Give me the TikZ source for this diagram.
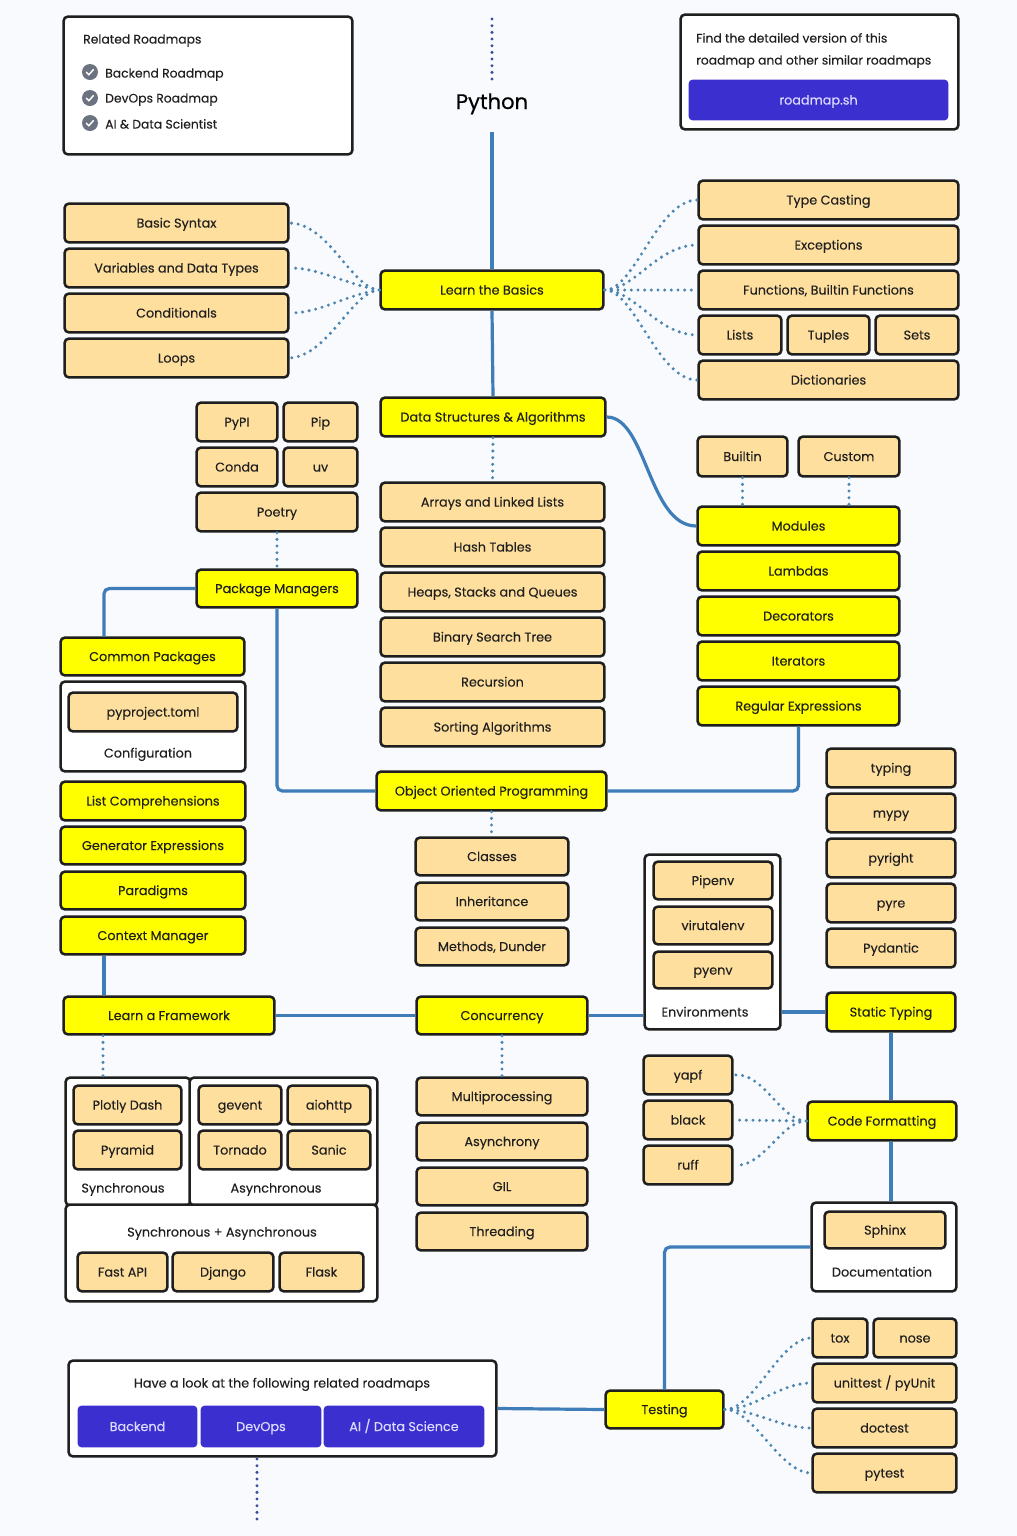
\documentclass[tikz,border=0pt]{standalone}
\usepackage{fontspec}
\setmainfont{Poppins}
\usetikzlibrary{backgrounds}
\definecolor{pagebg}{HTML}{F8FAFD}
\definecolor{tanfill}{HTML}{FFDF9E}
\definecolor{yelfill}{HTML}{FFFF00}
\definecolor{ink}{HTML}{1F1F1F}
\definecolor{linkblue}{HTML}{3E7DB8}
\definecolor{dotblue}{HTML}{4C86B0}
\definecolor{navydot}{HTML}{3A4F9E}
\definecolor{btnfill}{HTML}{3C2FCF}
\definecolor{btntext}{HTML}{DCDCFF}
\definecolor{chkgray}{HTML}{6B7280}
\newcommand{\rmfont}{\fontsize{9.6}{11}\selectfont\addfontfeature{FakeBold=0.15}}
\newcommand{\rmsmall}{\fontsize{9.25}{11}\selectfont\addfontfeature{FakeBold=0.15}}
\tikzset{
  x=0.75pt,y=-0.75pt,
  basebox/.style={rectangle,rounded corners=3.2pt,draw=ink,line width=1.9pt,inner sep=0pt,text=ink,
    font=\rmfont,text height=7.9pt,text depth=1.1pt,align=center},
  tanbox/.style={basebox,fill=tanfill},
  yelbox/.style={basebox,fill=yelfill},
  whitebox/.style={basebox,fill=white},
  btnbox/.style={rectangle,rounded corners=3pt,fill=btnfill,text=btntext,inner sep=0pt,
    font=\rmfont,text height=7.9pt,text depth=1.1pt},
  lbl/.style={inner sep=0pt,text=ink,font=\rmfont,text height=7.9pt,text depth=1.1pt},
  lblsmall/.style={lbl,font=\rmsmall},
  bline/.style={draw=linkblue,line width=2.4pt,rounded corners=4pt},
  fan/.style={draw=dotblue,line width=2.5pt,line cap=round,dash pattern=on 0pt off 5pt},
  topdots/.style={draw=navydot,line width=2.5pt,line cap=round,dash pattern=on 0pt off 5pt},
  chkdot/.style={circle,fill=chkgray,inner sep=0pt,minimum size=12pt},
}
\newcommand{\rmbx}[7][tanbox]{%
  \pgfmathsetmacro\rmcx{(#3+#5)/2}%
  \pgfmathsetmacro\rmcy{(#4+#6)/2}%
  \pgfmathsetmacro\rmw{(#5-#3-1.2)*0.75}%
  \pgfmathsetmacro\rmh{(#6-#4-1.2)*0.75}%
  \node[#1,minimum width=\rmw pt,minimum height=\rmh pt] (#2) at (\rmcx,\rmcy) {#7};}
\newcommand{\rmchk}[3]{%
  \node[chkdot] (#1) at (#2,#3) {};
  \draw[white,line width=1.1pt,line cap=round,line join=round]
    ([shift={(-3.6,0.2)}]#1.center) -- ++(2.4,2.6) -- ++(4.6,-5.2);}
\begin{document}
\begin{tikzpicture}
\path[use as bounding box,fill=pagebg] (0,0) rectangle (1017,1536);

% top panels
\rmbx[whitebox]{related}{63}{16}{353}{155}{}
\node[lblsmall,anchor=west] (relT) at (83,39) {Related Roadmaps};
\rmchk{c1}{90}{72}\rmchk{c2}{90}{98}\rmchk{c3}{90}{123}
\node[lblsmall,anchor=west] (rel1) at (105,73) {Backend Roadmap};
\node[lblsmall,anchor=west] (rel2) at (105,98) {DevOps Roadmap};
\node[lblsmall,anchor=west] (rel3) at (105,124) {AI \& Data Scientist};

\rmbx[whitebox]{find}{680}{14}{959}{130}{}
\node[lblsmall,anchor=west] (find1) at (696,38) {Find the detailed version of this};
\node[lblsmall,anchor=west] (find2) at (696,60) {roadmap and other similar roadmaps};
\rmbx[btnbox]{sh}{688}{79}{949}{121}{roadmap.sh}

\node[inner sep=0pt,text=black,font=\fontsize{15.8}{20}\selectfont\addfontfeature{FakeBold=0.5},minimum height=36pt,text height=13pt,text depth=1pt] (python) at (492,101) {Python};
\coordinate (topd) at (492,19);

% basics
\rmbx{syntax}{64}{203}{289}{243}{Basic Syntax}
\rmbx{vars}{64}{248}{289}{288}{Variables and Data Types}
\rmbx{cond}{64}{293}{289}{333}{Conditionals}
\rmbx{loops}{64}{338}{289}{378}{Loops}
\rmbx[yelbox]{basics}{380}{270}{604}{310}{Learn the Basics}
\rmbx{cast}{698}{180}{959}{220}{Type Casting}
\rmbx{exc}{698}{225}{959}{265}{Exceptions}
\rmbx{func}{698}{270}{959}{310}{Functions, Builtin Functions}
\rmbx{lists}{698}{315}{782}{355}{Lists}
\rmbx{tuples}{787}{315}{870}{355}{Tuples}
\rmbx{sets}{875}{315}{959}{355}{Sets}
\rmbx{dicts}{698}{360}{959}{400}{Dictionaries}

% data structures
\rmbx[yelbox]{dsa}{380}{397}{606}{437}{Data Structures \& Algorithms}
\rmbx{arrays}{380}{482}{605}{522}{Arrays and Linked Lists}
\rmbx{hash}{380}{527}{605}{567}{Hash Tables}
\rmbx{heaps}{380}{572}{605}{612}{Heaps, Stacks and Queues}
\rmbx{bst}{380}{617}{605}{657}{Binary Search Tree}
\rmbx{recur}{380}{662}{605}{702}{Recursion}
\rmbx{sort}{380}{707}{605}{747}{Sorting Algorithms}

% modules
\rmbx{builtin}{697}{436}{788}{477}{Builtin}
\rmbx{custom}{798}{436}{900}{477}{Custom}
\rmbx[yelbox]{modules}{697}{506}{900}{546}{Modules}
\rmbx[yelbox]{lambdas}{697}{551}{900}{591}{Lambdas}
\rmbx[yelbox]{decor}{697}{596}{900}{636}{Decorators}
\rmbx[yelbox]{iter}{697}{641}{900}{681}{Iterators}
\rmbx[yelbox]{regex}{697}{686}{900}{726}{Regular Expressions}

% package managers
\rmbx{pypi}{196}{402}{278}{442}{PyPI}
\rmbx{pip}{283}{402}{358}{442}{Pip}
\rmbx{conda}{196}{447}{278}{487}{Conda}
\rmbx{uv}{283}{447}{358}{487}{uv}
\rmbx{poetry}{196}{492}{358}{532}{Poetry}
\rmbx[yelbox]{pm}{196}{569}{358}{608}{Package Managers}

% left column
\rmbx[yelbox]{common}{60}{637}{245}{676}{Common Packages}
\rmbx[whitebox]{config}{60}{681}{246}{772}{}
\rmbx{pyproj}{68}{692}{238}{732}{pyproject.toml}
\node[lbl] (configL) at (148,753) {Configuration};
\rmbx[yelbox]{listc}{60}{781}{246}{821}{List Comprehensions}
\rmbx[yelbox]{genx}{60}{826}{246}{865}{Generator Expressions}
\rmbx[yelbox]{para}{60}{871}{246}{910}{Paradigms}
\rmbx[yelbox]{context}{60}{916}{246}{955}{Context Manager}

% oop
\rmbx[yelbox]{oop}{376}{771}{607}{811}{Object Oriented Programming}
\rmbx{classes}{415}{837}{569}{876}{Classes}
\rmbx{inherit}{415}{882}{569}{921}{Inheritance}
\rmbx{methods}{415}{927}{569}{966}{Methods, Dunder}

% environments
\rmbx[whitebox]{env}{644}{854}{781}{1030}{}
\rmbx{pipenv}{653}{861}{773}{900}{Pipenv}
\rmbx{virt}{653}{906}{773}{945}{virutalenv}
\rmbx{pyenv}{653}{951}{773}{989}{pyenv}
\node[lbl] (envL) at (705,1012) {Environments};

% typing
\rmbx{typing}{826}{748}{956}{788}{typing}
\rmbx{mypy}{826}{793}{956}{833}{mypy}
\rmbx{pyright}{826}{838}{956}{878}{pyright}
\rmbx{pyre}{826}{883}{956}{923}{pyre}
\rmbx{pydantic}{826}{928}{956}{968}{Pydantic}
\rmbx[yelbox]{static}{826}{992}{956}{1032}{Static Typing}

% framework and concurrency
\rmbx[yelbox]{framework}{63}{996}{275}{1035}{Learn a Framework}
\rmbx[yelbox]{conc}{416}{996}{588}{1035}{Concurrency}
\rmbx{multi}{416}{1077}{588}{1116}{Multiprocessing}
\rmbx{async}{416}{1122}{588}{1161}{Asynchrony}
\rmbx{gil}{416}{1167}{588}{1206}{GIL}
\rmbx{thread}{416}{1212}{588}{1251}{Threading}

\rmbx[whitebox]{syncbox}{65}{1077}{191}{1206}{}
\rmbx[whitebox]{asyncbox}{189}{1077}{378}{1206}{}
\rmbx[whitebox]{both}{65}{1204}{378}{1302}{}
\rmbx{plotly}{73}{1085}{182}{1125}{Plotly Dash}
\rmbx{pyramid}{73}{1130}{182}{1170}{Pyramid}
\rmbx{gevent}{198}{1085}{282}{1125}{gevent}
\rmbx{aiohttp}{287}{1085}{371}{1125}{aiohttp}
\rmbx{tornado}{198}{1130}{282}{1170}{Tornado}
\rmbx{sanic}{287}{1130}{371}{1170}{Sanic}
\node[lbl] (syncL) at (123,1188) {Synchronous};
\node[lbl] (asyncL) at (276,1188) {Asynchronous};
\node[lbl] (bothL) at (222,1232) {Synchronous + Asynchronous};
\rmbx{fastapi}{77}{1252}{168}{1292}{Fast API}
\rmbx{django}{172}{1252}{274}{1292}{Django}
\rmbx{flask}{279}{1252}{364}{1292}{Flask}

% code formatting, docs, testing
\rmbx{yapf}{643}{1055}{733}{1095}{yapf}
\rmbx{black}{643}{1100}{733}{1140}{black}
\rmbx{ruff}{643}{1145}{733}{1185}{ruff}
\rmbx[yelbox]{code}{807}{1101}{957}{1141}{Code Formatting}
\rmbx[whitebox]{doc}{811}{1202}{957}{1292}{}
\rmbx{sphinx}{824}{1211}{946}{1249}{Sphinx}
\node[lbl] (docL) at (882,1272) {Documentation};
\rmbx{tox}{812}{1318}{868}{1358}{tox}
\rmbx{nose}{873}{1318}{957}{1358}{nose}
\rmbx{unit}{812}{1363}{957}{1403}{unittest / pyUnit}
\rmbx{doctest}{812}{1408}{957}{1448}{doctest}
\rmbx{pytest}{812}{1453}{957}{1493}{pytest}
\rmbx[yelbox]{testing}{605}{1390}{724}{1429}{Testing}

% bottom panel
\rmbx[whitebox]{bottom}{68}{1360}{497}{1457}{}
\node[lbl] (bottomL) at (282,1383) {Have a look at the following related roadmaps};
\rmbx[btnbox]{bBack}{77}{1405}{198}{1448}{Backend}
\rmbx[btnbox]{bDev}{200}{1405}{322}{1448}{DevOps}
\rmbx[btnbox]{bAI}{323}{1405}{485}{1448}{AI / Data Science}
\coordinate (botd) at (257,1520);
\coordinate (botu) at (257,1459);

% solid connectors
\draw[bline,shorten <=5.25pt] (python.south) -- (basics.north);
\draw[bline] (basics.south) -- (dsa.north);
\draw[bline] (dsa.east) .. controls +(40,0) and +(-48,0) .. (modules.west);
\draw[bline] (regex.south) |- (oop.east);
\draw[bline] (oop.west) -| (pm.south);
\draw[bline] (pm.west) -| ([xshift=-36.4pt]common.north);
\draw[bline] ([xshift=-36.75pt]context.south) -- ([xshift=-48.75pt]framework.north);
\draw[bline] (framework.east) -- (conc.west);
\draw[bline] (conc.east) -- (conc.east -| env.west);
\draw[bline] (static.west) -- (static.west -| env.east);
\draw[bline] (static.south) -- (static.south |- code.north);
\draw[bline] (static.south |- code.south) -- (static.south |- doc.north);
\draw[bline] (doc.west) -| (testing.north);
\draw[bline] (testing.west) -- (bottom.east);

% dotted connectors
\draw[topdots] (topd) -- ([yshift=-2pt]python.north);
\draw[topdots] (botu) -- (botd);
\draw[fan] (dsa.south) -- (arrays.north);
\draw[fan] (builtin.south) -- (builtin.south |- modules.north);
\draw[fan] (custom.south) -- (custom.south |- modules.north);
\draw[fan] (poetry.south) -- (pm.north);
\draw[fan] (oop.south) -- (oop.south |- classes.north);
\draw[fan] (conc.south) -- (multi.north);
\coordinate (fwd) at ([xshift=-49.5pt]framework.south);
\draw[fan] (fwd) -- (fwd |- syncbox.north);

% fans left of basics
\draw[fan,shorten >=1pt] (basics.west) .. controls +(-28,-2) and +(40,2) .. (syntax.east);
\draw[fan,shorten >=1pt] (basics.west) .. controls +(-28,-4) and +(30,0) .. (vars.east);
\draw[fan,shorten >=1pt] (basics.west) .. controls +(-28,3) and +(30,0) .. (cond.east);
\draw[fan,shorten >=1pt] (basics.west) .. controls +(-28,2) and +(40,-4) .. (loops.east);
% fans right of basics
\draw[fan] (basics.east) .. controls +(30,0) and +(-40,0) .. (cast.west);
\draw[fan] (basics.east) .. controls +(30,0) and +(-40,0) .. (exc.west);
\draw[fan] (basics.east) -- (func.west);
\draw[fan] (basics.east) .. controls +(30,0) and +(-40,0) .. (lists.west);
\draw[fan] (basics.east) .. controls +(30,0) and +(-40,0) .. (dicts.west);
% code formatting fan
\draw[fan,shorten >=1.5pt] (code.west) .. controls +(-25,0) and +(30,-2) .. (yapf.east);
\draw[fan,shorten >=1.5pt] (code.west) -- (black.east);
\draw[fan,shorten >=1.5pt] (code.west) .. controls +(-25,0) and +(30,2) .. (ruff.east);
% testing fan
\draw[fan] (testing.east) .. controls +(30,0) and +(-32,0) .. (tox.west);
\draw[fan] (testing.east) .. controls +(30,0) and +(-32,0) .. (unit.west);
\draw[fan] (testing.east) .. controls +(30,0) and +(-32,0) .. (doctest.west);
\draw[fan] (testing.east) .. controls +(30,0) and +(-32,0) .. (pytest.west);
\end{tikzpicture}
\end{document}
